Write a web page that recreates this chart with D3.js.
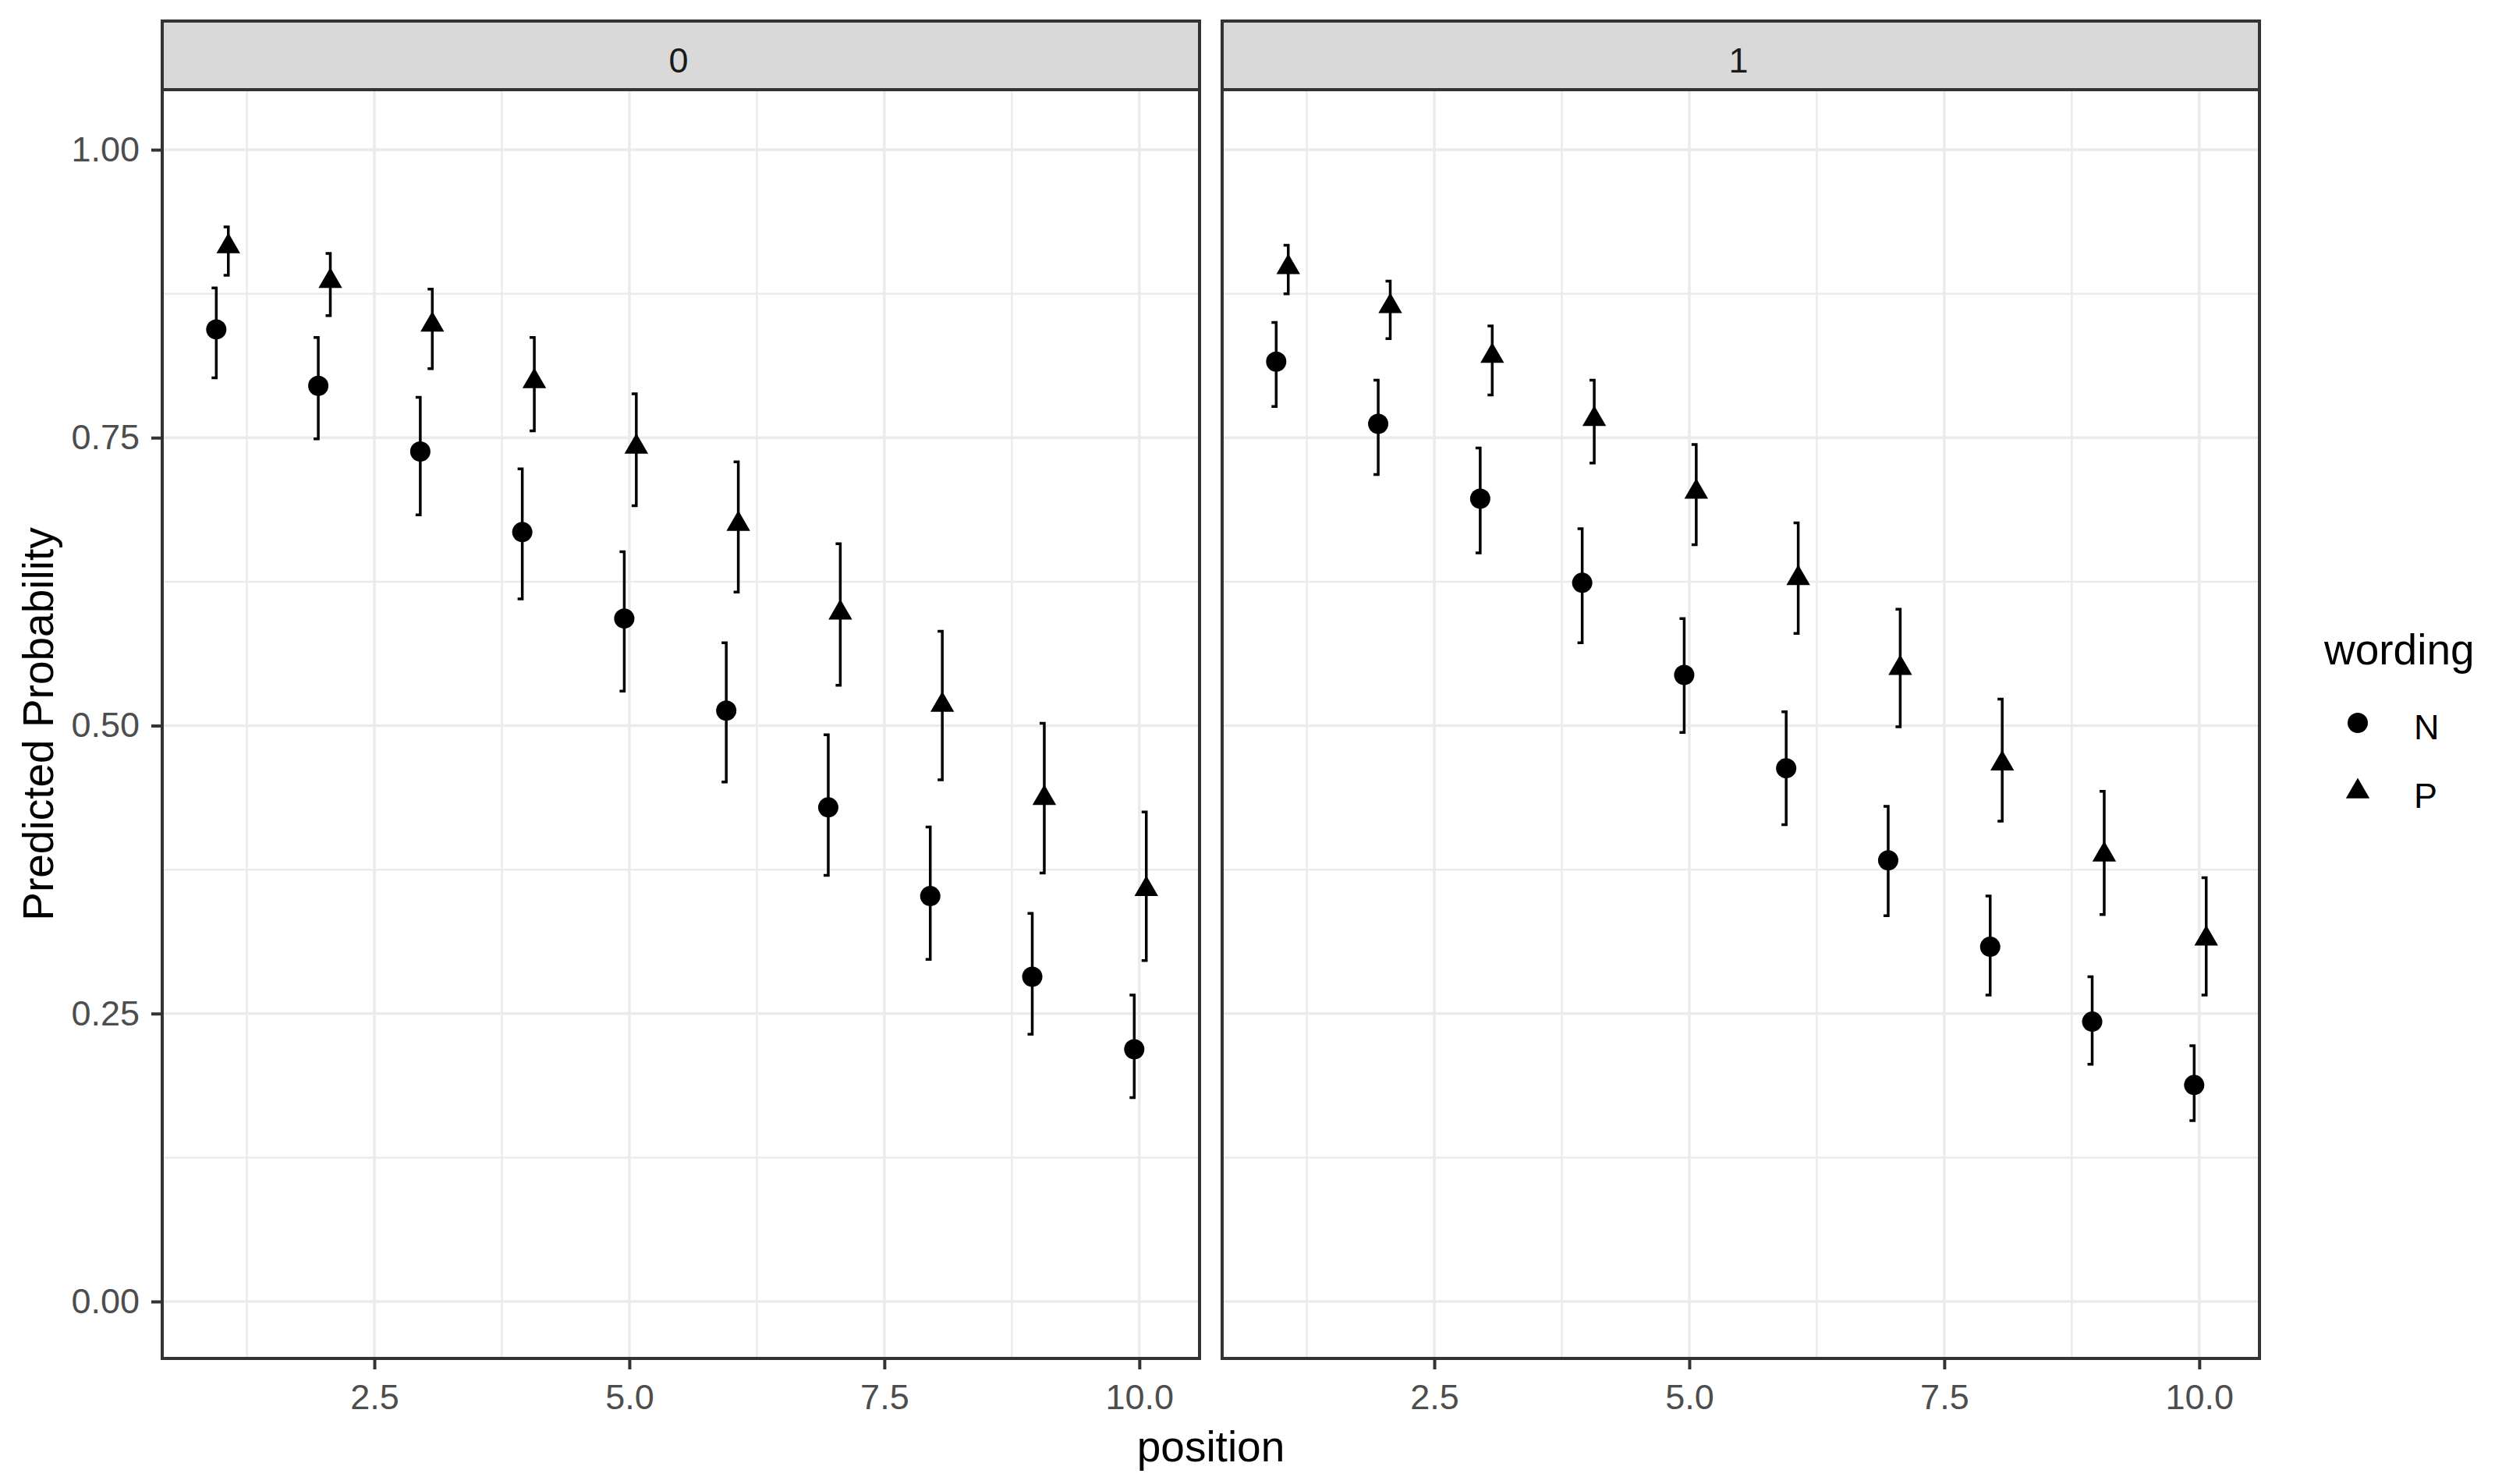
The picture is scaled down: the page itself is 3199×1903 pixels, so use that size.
<!DOCTYPE html>
<html>
<head>
<meta charset="utf-8">
<script src="https://cdn.jsdelivr.net/npm/d3@7"></script>
<style>
    body { margin: 0; background: #ffffff; }
    svg { display: block; font-family: "Liberation Sans", Arial, sans-serif; }
</style>
</head>
<body>
<svg id="chart"></svg>
<script>
// data
const positions = [1, 2, 3, 4, 5, 6, 7, 8, 9, 10];
const panelLabels = ['0', '1'];
const wordings = ['N', 'P'];

const n0Est = [0.844, 0.795, 0.738, 0.668, 0.593, 0.513, 0.429, 0.352, 0.282, 0.219];
const n0Lo  = [0.802, 0.749, 0.683, 0.610, 0.530, 0.451, 0.370, 0.297, 0.232, 0.177];
const n0Hi  = [0.880, 0.837, 0.785, 0.723, 0.651, 0.572, 0.492, 0.412, 0.337, 0.266];
const p0Est = [0.916, 0.886, 0.848, 0.799, 0.742, 0.675, 0.598, 0.518, 0.437, 0.358];
const p0Lo  = [0.891, 0.856, 0.810, 0.756, 0.691, 0.616, 0.535, 0.453, 0.372, 0.296];
const p0Hi  = [0.933, 0.910, 0.879, 0.837, 0.788, 0.729, 0.658, 0.582, 0.502, 0.425];

const n1Est = [0.816, 0.762, 0.697, 0.624, 0.544, 0.463, 0.383, 0.308, 0.243, 0.188];
const n1Lo  = [0.777, 0.718, 0.650, 0.572, 0.494, 0.414, 0.335, 0.266, 0.206, 0.157];
const n1Hi  = [0.850, 0.800, 0.741, 0.671, 0.593, 0.512, 0.430, 0.352, 0.282, 0.222];
const p1Est = [0.898, 0.864, 0.821, 0.766, 0.703, 0.628, 0.550, 0.467, 0.388, 0.315];
const p1Lo  = [0.875, 0.836, 0.787, 0.728, 0.657, 0.580, 0.499, 0.417, 0.336, 0.266];
const p1Hi  = [0.917, 0.886, 0.847, 0.800, 0.744, 0.676, 0.601, 0.523, 0.443, 0.368];

const xMajor = [2.5, 5, 7.5, 10];
const xMinor = [1.25, 3.75, 6.25, 8.75];
const yMajor = [0, 0.25, 0.5, 0.75, 1];
const yMinor = [0.125, 0.375, 0.625, 0.875];

// dodge of the two wordings along x
const dodge = { N: -0.05, P: 0.068 };

// build rows
const rows = [];
const sets = [
    { panel: '0', wording: 'N', est: n0Est, lo: n0Lo, hi: n0Hi },
    { panel: '0', wording: 'P', est: p0Est, lo: p0Lo, hi: p0Hi },
    { panel: '1', wording: 'N', est: n1Est, lo: n1Lo, hi: n1Hi },
    { panel: '1', wording: 'P', est: p1Est, lo: p1Lo, hi: p1Hi }
];
sets.forEach(s => {
    positions.forEach((p, i) => {
        rows.push({ panel: s.panel, wording: s.wording, position: p, est: s.est[i], lo: s.lo[i], hi: s.hi[i] });
    });
});

class FacetPlot {
    constructor(_config, _data) {
        this.data = _data;
        this.config = {
            parentElement: _config.parentElement,
            width: _config.width || 3199,
            height: _config.height || 1903,
            panelLefts: [208, 1567],
            panelWidth: 1330,
            stripTop: 27,
            panelTop: 115,
            panelBottom: 1742
        };
        this.initVis();
    }

    initVis() {
        const that = this;
        const c = that.config;

        that.svg = d3.select(c.parentElement)
            .attr('width', c.width)
            .attr('height', c.height);

        that.xScale = d3.scaleLinear()
            .domain([0.42, 10.59])
            .range([0, c.panelWidth]);

        // y runs past 0 and 1 by the usual 5% padding
        that.yScale = d3.scaleLinear()
            .domain([0, 1])
            .range([1669, 192]);

        that.triangle = 'M0,-17.5L15.2,8.75L-15.2,8.75Z';

        that.renderVis();
    }

    renderVis() {
        const that = this;
        const c = that.config;
        const x = that.xScale;
        const y = that.yScale;
        const ph = c.panelBottom - c.panelTop;

        panelLabels.forEach((lab, pi) => {
            const g = that.svg.append('g')
                .attr('transform', `translate(${c.panelLefts[pi]},0)`);

            // panel background
            g.append('rect')
                .attr('x', 0).attr('y', c.panelTop)
                .attr('width', c.panelWidth).attr('height', ph)
                .attr('fill', '#ffffff');

            // grid
            g.append('g').selectAll('line').data(yMinor).join('line')
                .attr('x1', 0).attr('x2', c.panelWidth)
                .attr('y1', d => y(d)).attr('y2', d => y(d))
                .attr('stroke', '#ebebeb').attr('stroke-width', 2.5);
            g.append('g').selectAll('line').data(xMinor).join('line')
                .attr('x1', d => x(d)).attr('x2', d => x(d))
                .attr('y1', c.panelTop).attr('y2', c.panelBottom)
                .attr('stroke', '#ebebeb').attr('stroke-width', 2.5);
            g.append('g').selectAll('line').data(yMajor).join('line')
                .attr('x1', 0).attr('x2', c.panelWidth)
                .attr('y1', d => y(d)).attr('y2', d => y(d))
                .attr('stroke', '#ebebeb').attr('stroke-width', 3.5);
            g.append('g').selectAll('line').data(xMajor).join('line')
                .attr('x1', d => x(d)).attr('x2', d => x(d))
                .attr('y1', c.panelTop).attr('y2', c.panelBottom)
                .attr('stroke', '#ebebeb').attr('stroke-width', 3.5);

            const pdata = that.data.filter(d => d.panel === lab);
            const px = d => x(d.position + dodge[d.wording]);

            // error bars
            g.append('g').selectAll('path').data(pdata).join('path')
                .attr('d', d => {
                    const cx = px(d), y0 = y(d.lo), y1 = y(d.hi);
                    return `M${cx - 6},${y1}H${cx}V${y0}H${cx - 6}`;
                })
                .attr('fill', 'none')
                .attr('stroke', '#000000')
                .attr('stroke-width', 3.5);

            // points
            g.append('g').selectAll('circle').data(pdata.filter(d => d.wording === 'N')).join('circle')
                .attr('cx', px).attr('cy', d => y(d.est))
                .attr('r', 13).attr('fill', '#000000');
            g.append('g').selectAll('path').data(pdata.filter(d => d.wording === 'P')).join('path')
                .attr('transform', d => `translate(${px(d)},${y(d.est)})`)
                .attr('d', that.triangle).attr('fill', '#000000');

            // panel border
            g.append('rect')
                .attr('x', 0).attr('y', c.panelTop)
                .attr('width', c.panelWidth).attr('height', ph)
                .attr('fill', 'none').attr('stroke', '#333333').attr('stroke-width', 4);

            // strip
            g.append('rect')
                .attr('x', 0).attr('y', c.stripTop)
                .attr('width', c.panelWidth).attr('height', c.panelTop - c.stripTop)
                .attr('fill', '#d9d9d9').attr('stroke', '#333333').attr('stroke-width', 4);
            g.append('text')
                .attr('x', c.panelWidth / 2 - 3)
                .attr('y', 93)
                .attr('text-anchor', 'middle')
                .attr('font-size', 45)
                .attr('fill', '#1a1a1a')
                .text(lab);

            // x axis
            const xAxisG = g.append('g')
                .attr('transform', `translate(0,${c.panelBottom})`)
                .call(d3.axisBottom(x).tickValues(xMajor).tickFormat(d3.format('.1f'))
                    .tickSize(14).tickPadding(19));
            that.styleAxis(xAxisG);

            // y axis only on the first panel
            if (pi === 0) {
                const yAxisG = g.append('g')
                    .call(d3.axisLeft(y).tickValues(yMajor).tickFormat(d3.format('.2f'))
                        .tickSize(14).tickPadding(15));
                that.styleAxis(yAxisG);
            }
        });

        // axis titles
        const mid = (c.panelLefts[0] + c.panelLefts[1] + c.panelWidth) / 2;
        that.svg.append('text')
            .attr('x', mid)
            .attr('y', 1874)
            .attr('text-anchor', 'middle')
            .attr('font-size', 55)
            .attr('fill', '#000000')
            .text('position');

        that.svg.append('text')
            .attr('transform', `translate(68,${(c.panelTop + c.panelBottom) / 2}) rotate(-90)`)
            .attr('text-anchor', 'middle')
            .attr('font-size', 55)
            .attr('fill', '#000000')
            .text('Predicted Probability');

        // legend
        const legend = that.svg.append('g');
        legend.append('text')
            .attr('x', 2980).attr('y', 852)
            .attr('font-size', 55)
            .attr('fill', '#000000')
            .text('wording');

        const keyY = d3.scalePoint().domain(wordings).range([927, 1015]);
        legend.append('circle')
            .attr('cx', 3023).attr('cy', keyY('N'))
            .attr('r', 13).attr('fill', '#000000');
        legend.append('path')
            .attr('transform', `translate(3023,${keyY('P')})`)
            .attr('d', that.triangle).attr('fill', '#000000');
        legend.selectAll('.lab').data(wordings).join('text')
            .attr('x', 3095)
            .attr('y', d => keyY(d) + 21)
            .attr('font-size', 45)
            .attr('fill', '#000000')
            .text(d => d);
    }

    styleAxis(axisG) {
        axisG.select('.domain').remove();
        axisG.selectAll('.tick line')
            .attr('stroke', '#333333')
            .attr('stroke-width', 4);
        axisG.selectAll('.tick text')
            .attr('font-size', 45)
            .attr('font-family', '"Liberation Sans", Arial, sans-serif')
            .attr('fill', '#4d4d4d');
    }
}

new FacetPlot({ parentElement: '#chart', width: 3199, height: 1903 }, rows);
</script>
</body>
</html>
